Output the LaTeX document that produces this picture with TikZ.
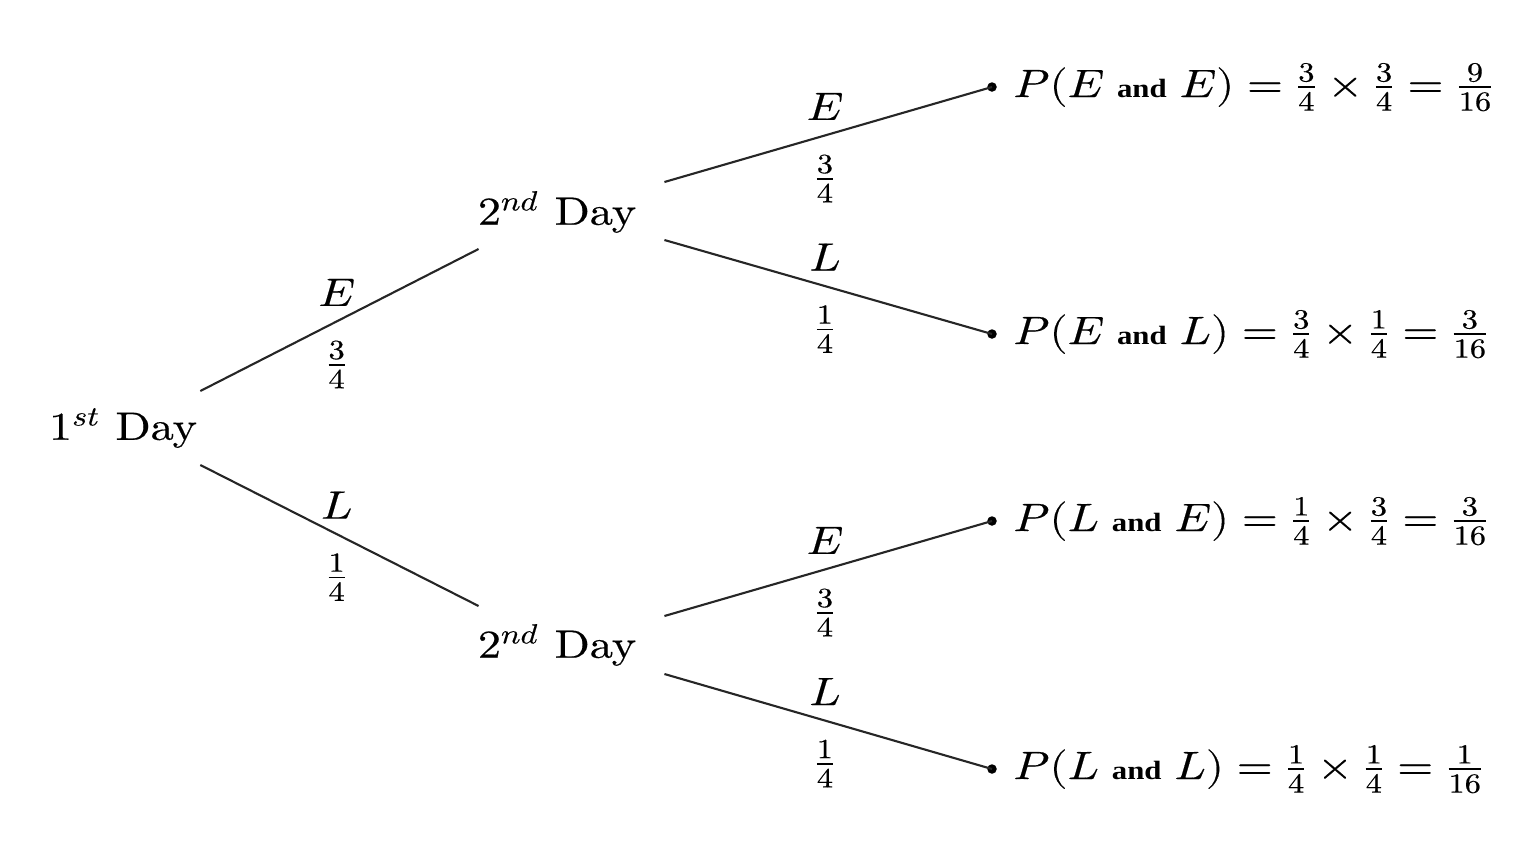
\documentclass[tikz,border=0pt]{standalone}
\usepackage{amsmath}
\usepackage{graphicx}
\usepackage{fontspec}
\usepackage{unicode-math}
\setmainfont{lmroman10-regular.otf}[FakeBold=0.4]
\setmathfont{latinmodern-math.otf}[FakeBold=0.4]
\newfontfamily\andfont{Liberation Serif}
\usetikzlibrary{calc}
\newcommand{\myand}{\;\text{\andfont\bfseries\fontsize{15}{18}\selectfont and}\;}
\newcommand{\hstretch}[1]{\scalebox{1.17}[1]{#1}}
\begin{document}
\begin{tikzpicture}[x=0.02cm,y=-0.02cm,
  every node/.style={font=\fontsize{22.5}{27}\selectfont, inner sep=0pt},
  branch/.style={line width=1.2pt, draw=black!85},
  dotnode/.style={circle, fill=black, minimum size=0.19cm, inner sep=0pt},
  up/.style={pos=.49, yshift=0.58cm},
  down/.style={pos=.49, yshift=-0.86cm},
  eqn/.style={anchor=base west}]
\useasboundingbox (0,0) rectangle (1536,850);
% stage nodes
\node (s1) at (123,428) {\hstretch{$1^{st}$ Day}};
\node (d2a) at (557,212) {\hstretch{$2^{nd}$ Day}};
\node (d2b) at (557,645) {\hstretch{$2^{nd}$ Day}};
% leaves
\node[dotnode] (k1) at (992,87) {};
\node[dotnode] (k2) at (992,334) {};
\node[dotnode] (k3) at (992,521) {};
\node[dotnode] (k4) at (992,769) {};
% equations
\node[eqn] (q1) at (1013,97) {\hstretch{$P(E\myand E)=\frac34\times\frac34=\frac{9}{16}$}};
\node[eqn] (q2) at (1013,344) {\hstretch{$P(E\myand L)=\frac34\times\frac14=\frac{3}{16}$}};
\node[eqn] (q3) at (1013,531) {\hstretch{$P(L\myand E)=\frac14\times\frac34=\frac{3}{16}$}};
\node[eqn] (q4) at (1013,779) {\hstretch{$P(L\myand L)=\frac14\times\frac14=\frac{1}{16}$}};
% branches
\draw[branch] ([shift={(3,-37)}]s1.east) -- node[up] (l1) {\hstretch{$E$}} node[down] (f1) {\hstretch{$\frac34$}} ([shift={(1,37)}]d2a.west);
\draw[branch] ([shift={(3,37)}]s1.east) -- node[up] (l2) {\hstretch{$L$}} node[down] (f2) {\hstretch{$\frac14$}} ([shift={(1,-39)}]d2b.west);
\draw[branch] ([shift={(28,-30)}]d2a.east) -- node[up] (l3) {\hstretch{$E$}} node[down] (f3) {\hstretch{$\frac34$}} (k1.center);
\draw[branch] ([shift={(28,28)}]d2a.east) -- node[up] (l4) {\hstretch{$L$}} node[down] (f4) {\hstretch{$\frac14$}} (k2.center);
\draw[branch] ([shift={(28,-29)}]d2b.east) -- node[up] (l5) {\hstretch{$E$}} node[down] (f5) {\hstretch{$\frac34$}} (k3.center);
\draw[branch] ([shift={(28,29)}]d2b.east) -- node[up] (l6) {\hstretch{$L$}} node[down] (f6) {\hstretch{$\frac14$}} (k4.center);
\end{tikzpicture}
\end{document}
